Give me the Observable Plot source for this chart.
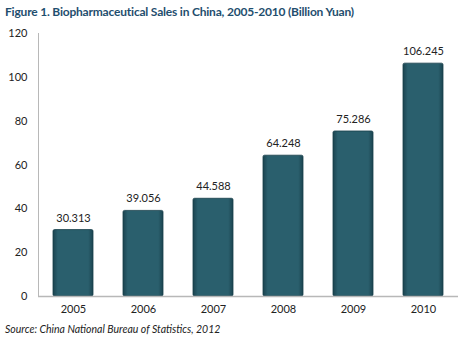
<!DOCTYPE html>
<html><head><meta charset="utf-8">
<script src="https://cdn.jsdelivr.net/npm/d3@7"></script>
<script src="https://cdn.jsdelivr.net/npm/@observablehq/plot@0.6"></script>
<style>
body{margin:0;background:#fff;font-family:Lato,"Open Sans",sans-serif;}
#title{height:22px;line-height:24px;padding-left:5px;font-weight:bold;font-size:12px;letter-spacing:-0.2px;color:#1f4e6e;}
#src{padding-left:5px;font-style:italic;font-size:10.5px;color:#222;height:18px;line-height:14px;}
</style></head><body>
<div id="title">Figure 1. Biopharmaceutical Sales in China, 2005-2010 (Billion Yuan)</div>
<div id="chart"></div>
<div id="src">Source: China National Bureau of Statistics, 2012</div>
<script>
const years = ["2005","2006","2007","2008","2009","2010"];
const sales = [30.313, 39.056, 44.588, 64.248, 75.286, 106.245];
const labels = ["30.313","39.056","44.588","64.248","75.286","106.245"];
const yTicks = [0,20,40,60,80,100,120];
const data = years.map((y,i)=>({year:y, value:sales[i], label:labels[i]}));

const defs = () => {
  const d = d3.create("svg:defs");
  const g = d.append("linearGradient").attr("id","barGrad").attr("x1","0").attr("x2","1").attr("y1","0").attr("y2","0");
  g.append("stop").attr("offset","0%").attr("stop-color","#1b4450");
  g.append("stop").attr("offset","12%").attr("stop-color","#2a5f6d");
  g.append("stop").attr("offset","88%").attr("stop-color","#2a5f6d");
  g.append("stop").attr("offset","100%").attr("stop-color","#1b4450");
  return d.node();
};

const chart = Plot.plot({
  width: 474,
  height: 300,
  marginLeft: 38,
  marginRight: 16,
  marginTop: 11,
  marginBottom: 26,
  style: {fontFamily: "Lato, 'Open Sans', sans-serif", fontSize: "11px", color: "#222"},
  x: {domain: years, paddingInner: 0.4286, paddingOuter: 0.2143, label: null},
  y: {domain: [0,120], ticks: yTicks, label: null},
  marks: [
    defs,
    Plot.axisY({ticks: yTicks, tickSize: 0, tickPadding: 11, label: null, fontSize: 11}),
    Plot.axisX({tickSize: 0, tickPadding: 9, label: null, fontSize: 11}),
    Plot.barY(data, {x: "year", y: "value", fill: "url(#barGrad)", stroke: "#183f4a", strokeWidth: 0.8, rx: 1.5}),
    Plot.barY(data, {x: "year", y1: d => d.value - 1.2, y2: "value", fill: "#4d8a98", inset: 2}),
    Plot.text(data, {x: "year", y: "value", text: "label", dy: -12, fontSize: 11, fill: "#222"}),
    Plot.ruleY([0], {stroke: "#b8b8b8", strokeWidth: 1.5}),
    Plot.frame({anchor: "left", stroke: "#b8b8b8"})
  ]
});
document.getElementById("chart").appendChild(chart);
</script>
</body></html>
